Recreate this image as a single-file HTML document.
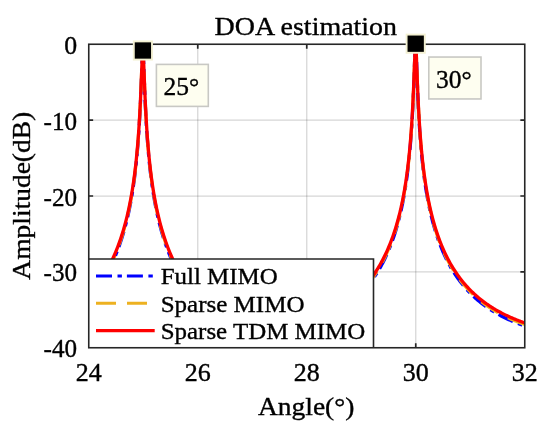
<!DOCTYPE html>
<html><head><meta charset="utf-8"><style>
html,body{margin:0;padding:0;background:#fff;width:550px;height:432px;overflow:hidden}
svg{display:block}
text{font-family:"Liberation Serif","DejaVu Serif",serif;fill:#000;stroke:#000;stroke-width:0.35px}
</style></head><body>
<svg width="550" height="432" viewBox="0 0 550 432">
<rect x="0" y="0" width="550" height="432" fill="#fff"/>
<g stroke="#262626" stroke-opacity="0.19" stroke-width="1.25" fill="none">
<path d="M197.75 44.25V347.75M306.75 44.25V347.75M415.75 44.25V347.75"/><path d="M88.75 120.1H524.75M88.75 196H524.75M88.75 271.9H524.75"/>
</g>
<g stroke="#262626" stroke-width="1.7" fill="none">
<path d="M197.75 347.75v-4.4M306.75 347.75v-4.4M415.75 347.75v-4.4M197.75 44.25v4.4M306.75 44.25v4.4M415.75 44.25v4.4M88.75 120.1h4.4M88.75 196h4.4M88.75 271.9h4.4M524.75 120.1h-4.4M524.75 196h-4.4M524.75 271.9h-4.4"/>
</g>
<defs><clipPath id="ax"><rect x="88.75" y="44.25" width="436" height="303.5"/></clipPath></defs>
<g clip-path="url(#ax)" fill="none" stroke-width="3.3">
<path d="M88.75 300.44 89.75 299.21 90.75 297.96 91.75 296.68 92.75 295.38 93.75 294.05 94.75 292.70 95.75 291.31 96.75 289.90 97.75 288.46 98.75 286.98 99.75 285.47 100.75 283.92 101.75 282.34 102.75 280.72 103.75 279.05 104.75 277.35 105.75 275.60 106.75 273.80 107.75 271.95 108.75 270.05 109.75 268.09 110.75 266.07 111.75 263.99 112.75 261.84 113.75 259.61 114.75 257.31 115.75 254.93 116.75 252.46 117.75 249.89 118.75 247.22 119.75 244.43 120.75 241.52 121.75 238.48 122.75 235.29 123.75 231.94 124.75 228.41 125.75 224.69 126.75 220.74 127.00 219.71 127.20 218.88 127.40 218.04 127.60 217.18 127.75 216.54 127.80 216.32 128.00 215.44 128.20 214.56 128.40 213.66 128.60 212.74 128.75 212.05 128.80 211.82 129.00 210.88 129.20 209.93 129.40 208.97 129.60 207.99 129.75 207.24 129.80 206.99 130.00 205.98 130.20 204.96 130.40 203.92 130.60 202.86 130.75 202.06 130.80 201.79 131.00 200.70 131.20 199.59 131.40 198.46 131.60 197.31 131.75 196.44 131.80 196.14 132.00 194.95 132.20 193.74 132.40 192.51 132.60 191.26 132.75 190.30 132.80 189.98 133.00 188.67 133.20 187.34 133.40 185.98 133.60 184.60 133.75 183.54 133.80 183.18 134.00 181.74 134.20 180.26 134.40 178.75 134.60 177.20 134.75 176.02 134.80 175.62 135.00 174.00 135.20 172.34 135.40 170.64 135.60 168.90 135.75 167.56 135.80 167.11 136.00 165.27 136.20 163.38 136.40 161.43 136.60 159.43 136.75 157.89 136.80 157.37 137.00 155.25 137.20 153.05 137.40 150.79 137.60 148.45 137.75 146.64 137.80 146.03 138.00 143.52 138.20 140.92 138.40 138.22 138.60 135.41 138.75 133.23 138.80 132.49 139.00 129.44 139.20 126.27 139.40 122.95 139.60 119.48 139.75 116.77 139.80 115.85 140.00 112.04 140.20 108.04 140.40 103.85 140.60 99.44 140.75 95.99 140.80 94.82 141.00 89.98 141.20 84.93 141.40 79.71 141.60 74.37 141.75 70.35 141.80 69.02 142.00 63.83 142.20 59.07 142.40 55.08 142.60 52.27 142.75 51.14 142.80 50.98 142.85 50.93 143.00 51.43 143.20 53.58 143.40 57.12 143.60 61.64 143.75 65.44 143.80 66.76 144.00 72.14 144.20 77.58 144.40 82.93 144.60 88.13 144.75 91.89 144.80 93.12 145.00 97.89 145.20 102.43 145.40 106.76 145.60 110.87 145.75 113.83 145.80 114.79 146.00 118.53 146.20 122.09 146.40 125.49 146.60 128.75 146.75 131.10 146.80 131.86 147.00 134.85 147.20 137.72 147.40 140.48 147.60 143.13 147.75 145.06 147.80 145.69 148.00 148.16 148.20 150.55 148.40 152.85 148.60 155.08 148.75 156.71 148.80 157.24 149.00 159.34 149.20 161.37 149.40 163.34 149.60 165.26 149.75 166.67 149.80 167.13 150.00 168.95 150.20 170.71 150.40 172.44 150.60 174.12 150.75 175.35 150.80 175.76 151.00 177.36 151.20 178.93 151.40 180.45 151.60 181.95 151.75 183.05 151.80 183.41 152.00 184.84 152.20 186.24 152.40 187.61 152.60 188.96 152.75 189.95 152.80 190.28 153.00 191.57 153.20 192.84 153.40 194.08 153.60 195.31 153.75 196.21 153.80 196.51 154.00 197.68 154.20 198.84 154.40 199.98 154.60 201.10 154.75 201.93 154.80 202.20 155.00 203.28 155.20 204.35 155.40 205.40 155.60 206.43 155.75 207.20 155.80 207.45 156.00 208.45 156.20 209.44 156.40 210.41 156.60 211.37 156.75 212.08 156.80 212.31 157.00 213.24 157.20 214.16 157.40 215.07 157.60 215.96 157.75 216.62 157.80 216.84 158.00 217.71 158.20 218.57 158.40 219.42 158.60 220.26 158.75 220.88 158.80 221.08 159.75 224.88 160.75 228.65 161.75 232.21 162.75 235.60 163.75 238.82 164.75 241.89 165.75 244.82 166.75 247.63 167.75 250.33 168.75 252.91 169.75 255.41 170.75 257.81 171.75 260.12 172.75 262.36 173.75 264.53 174.75 266.62 175.75 268.65 176.75 270.62 177.75 272.54 178.75 274.40 179.75 276.21 180.75 277.97 181.75 279.68 182.75 281.35 183.75 282.98 184.75 284.57 185.75 286.13 186.75 287.64 187.75 289.13 188.75 290.58 189.75 292.00 190.75 293.39 191.75 294.75 192.75 296.08 193.75 297.39 194.75 298.67 195.75 299.93 196.75 301.16 197.75 302.37 198.75 303.56 199.75 304.73 200.75 305.88 201.75 307.00 202.75 308.11 203.75 309.20 204.75 310.28 205.75 311.33 206.75 312.37 207.75 313.39 208.75 314.40 209.75 315.39 210.75 316.37 211.75 317.33 212.75 318.28 213.75 319.22 214.75 320.14 215.75 321.05 216.75 321.95 217.75 322.84 218.75 323.71 219.75 324.57 220.75 325.42 221.75 326.26 222.75 327.09 223.75 327.91 224.75 328.72 225.75 329.52 226.75 330.31 227.75 331.09 228.75 331.86 229.75 332.63 230.75 333.38 231.75 334.13 232.75 334.86 233.75 335.59 234.75 336.31 235.75 337.03 236.75 337.73 237.75 338.43 238.75 339.12 239.75 339.80 240.75 340.48 241.75 341.15 242.75 341.81 243.75 342.47 244.75 343.12 245.75 343.76 246.75 344.40 247.75 345.03 248.75 345.66 249.75 346.28 250.75 346.89 251.75 347.50 252.75 348.10 253.75 348.70 254.75 349.29 255.75 349.87 256.75 350.46 257.75 351.03 258.75 351.60 259.75 352.17 260.75 352.73 261.75 353.29 262.75 353.84 263.75 354.39 264.75 354.93 265.75 355.47 266.75 356.00 267.75 356.53 268.75 357.06 269.75 357.58 270.75 358.10 271.75 358.61 272.75 359.12 273.75 359.62 274.75 360.12 275.75 360.62 276.75 361.12 277.75 361.61 278.75 362.09 279.75 338.09 280.75 337.82 281.75 337.55 282.75 337.28 283.75 337.00 284.75 336.72 285.75 336.43 286.75 336.14 287.75 335.84 288.75 335.54 289.75 335.24 290.75 334.93 291.75 334.62 292.75 334.30 293.75 333.98 294.75 333.65 295.75 333.32 296.75 332.98 297.75 332.64 298.75 332.29 299.75 331.94 300.75 331.58 301.75 331.22 302.75 330.85 303.75 330.47 304.75 330.09 305.75 329.71 306.75 329.32 307.75 328.92 308.75 328.51 309.75 328.10 310.75 327.68 311.75 327.26 312.75 326.83 313.75 326.39 314.75 325.94 315.75 325.49 316.75 325.03 317.75 324.56 318.75 324.09 319.75 323.61 320.75 323.12 321.75 322.62 322.75 322.11 323.75 321.59 324.75 321.07 325.75 320.53 326.75 319.99 327.75 319.44 328.75 318.88 329.75 318.30 330.75 317.72 331.75 317.13 332.75 316.53 333.75 315.91 334.75 315.29 335.75 314.65 336.75 314.01 337.75 313.35 338.75 312.67 339.75 311.99 340.75 311.29 341.75 310.58 342.75 309.86 343.75 309.12 344.75 308.37 345.75 307.60 346.75 306.82 347.75 306.03 348.75 305.21 349.75 304.38 350.75 303.54 351.75 302.67 352.75 301.79 353.75 300.89 354.75 299.97 355.75 299.03 356.75 298.08 357.75 297.10 358.75 296.10 359.75 295.07 360.75 294.03 361.75 292.96 362.75 291.86 363.75 290.74 364.75 289.59 365.75 288.42 366.75 287.21 367.75 285.98 368.75 284.72 369.75 283.42 370.75 282.09 371.75 280.73 372.75 279.33 373.75 277.89 374.75 276.41 375.75 274.89 376.75 273.32 377.75 271.71 378.75 270.05 379.75 268.34 380.75 266.58 381.75 264.76 382.75 262.88 383.75 260.93 384.75 258.92 385.75 256.84 386.75 254.68 387.75 252.44 388.75 250.12 389.75 247.69 390.75 245.17 391.75 242.54 392.75 239.79 393.75 236.92 394.75 233.90 395.75 230.73 396.75 227.39 397.75 223.87 398.75 220.14 399.75 216.17 400.00 215.14 400.20 214.30 400.40 213.46 400.60 212.60 400.75 211.95 400.80 211.73 401.00 210.85 401.20 209.95 401.40 209.04 401.60 208.12 401.75 207.42 401.80 207.19 402.00 206.24 402.20 205.28 402.40 204.31 402.60 203.31 402.75 202.56 402.80 202.31 403.00 201.29 403.20 200.25 403.40 199.19 403.60 198.12 403.75 197.31 403.80 197.03 404.00 195.92 404.20 194.79 404.40 193.65 404.60 192.48 404.75 191.59 404.80 191.29 405.00 190.08 405.20 188.84 405.40 187.59 405.60 186.31 405.75 185.33 405.80 185.00 406.00 183.66 406.20 182.30 406.40 180.91 406.60 179.49 406.75 178.41 406.80 178.04 407.00 176.56 407.20 175.04 407.40 173.49 407.60 171.90 407.75 170.68 407.80 170.27 408.00 168.60 408.20 166.89 408.40 165.13 408.60 163.33 408.75 161.94 408.80 161.48 409.00 159.57 409.20 157.61 409.40 155.59 409.60 153.51 409.75 151.90 409.80 151.36 410.00 149.14 410.20 146.85 410.40 144.48 410.60 142.03 410.75 140.13 410.80 139.49 411.00 136.85 411.20 134.10 411.40 131.25 411.60 128.28 411.75 125.96 411.80 125.17 412.00 121.93 412.20 118.54 412.40 114.99 412.60 111.27 412.75 108.35 412.80 107.35 413.00 103.24 413.20 98.91 413.40 94.34 413.60 89.54 413.75 85.78 413.80 84.50 414.00 79.22 414.20 73.74 414.40 68.12 414.60 62.47 414.75 58.34 414.80 57.00 415.00 52.02 415.20 47.93 415.40 45.21 415.60 44.25 415.75 44.81 415.80 45.24 416.00 48.03 416.20 52.21 416.40 57.30 416.60 62.86 416.75 67.15 416.80 68.59 417.00 74.28 417.20 79.82 417.40 85.14 417.60 90.22 417.75 93.87 417.80 95.05 418.00 99.64 418.20 103.99 418.40 108.12 418.60 112.05 418.75 114.87 418.80 115.79 419.00 119.35 419.20 122.75 419.40 126.00 419.60 129.10 419.75 131.35 419.80 132.08 420.00 134.94 420.20 137.69 420.40 140.33 420.60 142.88 420.75 144.73 420.80 145.33 421.00 147.70 421.20 149.99 421.40 152.21 421.60 154.36 421.75 155.93 421.80 156.44 422.00 158.46 422.20 160.42 422.40 162.33 422.60 164.18 422.75 165.54 422.80 165.99 423.00 167.74 423.20 169.45 423.40 171.12 423.60 172.75 423.75 173.94 423.80 174.34 424.00 175.89 424.20 177.41 424.40 178.89 424.60 180.34 424.75 181.40 424.80 181.75 425.00 183.14 425.20 184.50 425.40 185.84 425.60 187.14 425.75 188.10 425.80 188.42 426.00 189.68 426.20 190.91 426.40 192.12 426.60 193.30 426.75 194.18 426.80 194.47 427.00 195.62 427.20 196.74 427.40 197.85 427.60 198.93 427.75 199.74 427.80 200.00 428.00 201.06 428.20 202.09 428.40 203.11 428.60 204.11 428.75 204.86 428.80 205.10 429.00 206.08 429.20 207.03 429.40 207.98 429.60 208.91 429.75 209.60 429.80 209.83 430.00 210.73 430.20 211.62 430.40 212.50 430.60 213.37 430.75 214.01 430.80 214.22 431.00 215.07 431.20 215.90 431.40 216.72 431.60 217.53 431.75 218.14 431.80 218.34 432.75 222.01 433.75 225.66 434.75 229.10 435.75 232.37 436.75 235.46 437.75 238.41 438.75 241.22 439.75 243.91 440.75 246.48 441.75 248.94 442.75 251.31 443.75 253.58 444.75 255.76 445.75 257.86 446.75 259.89 447.75 261.85 448.75 263.74 449.75 265.56 450.75 267.33 451.75 269.04 452.75 270.69 453.75 272.30 454.75 273.86 455.75 275.37 456.75 276.84 457.75 278.26 458.75 279.65 459.75 280.99 460.75 282.30 461.75 283.58 462.75 284.82 463.75 286.03 464.75 287.21 465.75 288.36 466.75 289.48 467.75 290.57 468.75 291.64 469.75 292.67 470.75 293.69 471.75 294.68 472.75 295.65 473.75 296.59 474.75 297.52 475.75 298.42 476.75 299.30 477.75 300.16 478.75 301.01 479.75 301.83 480.75 302.64 481.75 303.43 482.75 304.20 483.75 304.96 484.75 305.70 485.75 306.42 486.75 307.13 487.75 307.82 488.75 308.51 489.75 309.17 490.75 309.83 491.75 310.47 492.75 311.09 493.75 311.71 494.75 312.31 495.75 312.90 496.75 313.48 497.75 314.05 498.75 314.61 499.75 315.16 500.75 315.69 501.75 316.22 502.75 316.73 503.75 317.24 504.75 317.74 505.75 318.23 506.75 318.71 507.75 319.18 508.75 319.64 509.75 320.09 510.75 320.54 511.75 320.97 512.75 321.40 513.75 321.82 514.75 322.24 515.75 322.65 516.75 323.05 517.75 323.44 518.75 323.82 519.75 324.20 520.75 324.58 521.75 324.94 522.75 325.30 523.75 325.66 524.75 326.01" stroke="#0000ff" stroke-dasharray="16 5.5 4.4 5"/>
<path d="M88.75 298.85 89.75 297.62 90.75 296.37 91.75 295.09 92.75 293.79 93.75 292.46 94.75 291.11 95.75 289.72 96.75 288.31 97.75 286.87 98.75 285.39 99.75 283.88 100.75 282.33 101.75 280.75 102.75 279.13 103.75 277.47 104.75 275.76 105.75 274.01 106.75 272.21 107.75 270.36 108.75 268.46 109.75 266.50 110.75 264.48 111.75 262.40 112.75 260.25 113.75 258.03 114.75 255.73 115.75 253.34 116.75 250.87 117.75 248.30 118.75 245.63 119.75 242.84 120.75 239.94 121.75 236.90 122.75 233.71 123.75 230.36 124.75 226.83 125.75 223.10 126.75 219.16 127.00 218.13 127.20 217.30 127.40 216.46 127.60 215.60 127.75 214.96 127.80 214.74 128.00 213.86 128.20 212.98 128.40 212.08 128.60 211.17 128.75 210.47 128.80 210.24 129.00 209.30 129.20 208.35 129.40 207.39 129.60 206.41 129.75 205.67 129.80 205.42 130.00 204.41 130.20 203.39 130.40 202.35 130.60 201.29 130.75 200.49 130.80 200.22 131.00 199.12 131.20 198.02 131.40 196.89 131.60 195.74 131.75 194.87 131.80 194.57 132.00 193.39 132.20 192.18 132.40 190.94 132.60 189.69 132.75 188.73 132.80 188.41 133.00 187.11 133.20 185.78 133.40 184.42 133.60 183.03 133.75 181.98 133.80 181.62 134.00 180.18 134.20 178.70 134.40 177.19 134.60 175.65 134.75 174.47 134.80 174.07 135.00 172.45 135.20 170.79 135.40 169.09 135.60 167.35 135.75 166.02 135.80 165.56 136.00 163.73 136.20 161.84 136.40 159.90 136.60 157.90 136.75 156.36 136.80 155.84 137.00 153.72 137.20 151.54 137.40 149.28 137.60 146.94 137.75 145.14 137.80 144.53 138.00 142.02 138.20 139.43 138.40 136.74 138.60 133.94 138.75 131.77 138.80 131.03 139.00 128.00 139.20 124.84 139.40 121.54 139.60 118.10 139.75 115.40 139.80 114.49 140.00 110.70 140.20 106.74 140.40 102.58 140.60 98.22 140.75 94.82 140.80 93.65 141.00 88.88 141.20 83.92 141.40 78.79 141.60 73.57 141.75 69.65 141.80 68.35 142.00 63.32 142.20 58.73 142.40 54.90 142.60 52.20 142.75 51.13 142.80 50.98 142.85 50.93 143.00 51.41 143.20 53.46 143.40 56.85 143.60 61.21 143.75 64.88 143.80 66.16 144.00 71.39 144.20 76.71 144.40 81.96 144.60 87.06 144.75 90.77 144.80 91.98 145.00 96.69 145.20 101.18 145.40 105.46 145.60 109.55 145.75 112.48 145.80 113.44 146.00 117.15 146.20 120.69 146.40 124.07 146.60 127.31 146.75 129.65 146.80 130.41 147.00 133.39 147.20 136.25 147.40 139.00 147.60 141.64 147.75 143.56 147.80 144.19 148.00 146.66 148.20 149.03 148.40 151.33 148.60 153.56 148.75 155.18 148.80 155.72 149.00 157.81 149.20 159.84 149.40 161.81 149.60 163.72 149.75 165.13 149.80 165.59 150.00 167.40 150.20 169.17 150.40 170.89 150.60 172.57 150.75 173.80 150.80 174.21 151.00 175.81 151.20 177.37 151.40 178.90 151.60 180.39 151.75 181.49 151.80 181.85 152.00 183.28 152.20 184.68 152.40 186.05 152.60 187.39 152.75 188.38 152.80 188.71 153.00 190.00 153.20 191.27 153.40 192.51 153.60 193.74 153.75 194.64 153.80 194.93 154.00 196.11 154.20 197.27 154.40 198.41 154.60 199.53 154.75 200.35 154.80 200.63 155.00 201.71 155.20 202.77 155.40 203.82 155.60 204.86 155.75 205.62 155.80 205.87 156.00 206.87 156.20 207.86 156.40 208.83 156.60 209.79 156.75 210.50 156.80 210.73 157.00 211.66 157.20 212.58 157.40 213.49 157.60 214.38 157.75 215.04 157.80 215.26 158.00 216.13 158.20 216.99 158.40 217.84 158.60 218.68 158.75 219.30 158.80 219.50 159.75 223.29 160.75 227.06 161.75 230.63 162.75 234.01 163.75 237.23 164.75 240.30 165.75 243.24 166.75 246.04 167.75 248.74 168.75 251.33 169.75 253.82 170.75 256.22 171.75 258.54 172.75 260.77 173.75 262.94 174.75 265.03 175.75 267.07 176.75 269.04 177.75 270.95 178.75 272.81 179.75 274.62 180.75 276.38 181.75 278.09 182.75 279.76 183.75 281.39 184.75 282.98 185.75 284.54 186.75 286.05 187.75 287.54 188.75 288.99 189.75 290.41 190.75 291.80 191.75 293.16 192.75 294.49 193.75 295.80 194.75 297.08 195.75 298.34 196.75 299.57 197.75 300.78 198.75 301.97 199.75 303.14 200.75 304.29 201.75 305.41 202.75 306.52 203.75 307.61 204.75 308.69 205.75 309.74 206.75 310.78 207.75 311.80 208.75 312.81 209.75 313.80 210.75 314.78 211.75 315.74 212.75 316.69 213.75 317.63 214.75 318.55 215.75 319.46 216.75 320.36 217.75 321.25 218.75 322.12 219.75 322.98 220.75 323.83 221.75 324.67 222.75 325.50 223.75 326.32 224.75 327.13 225.75 327.93 226.75 328.72 227.75 329.50 228.75 330.27 229.75 331.04 230.75 331.79 231.75 332.54 232.75 333.27 233.75 334.00 234.75 334.72 235.75 335.44 236.75 336.14 237.75 336.84 238.75 337.53 239.75 338.21 240.75 338.89 241.75 339.56 242.75 340.22 243.75 340.88 244.75 341.53 245.75 342.17 246.75 342.81 247.75 343.44 248.75 344.07 249.75 344.69 250.75 345.30 251.75 345.91 252.75 346.51 253.75 347.11 254.75 347.70 255.75 348.28 256.75 348.87 257.75 349.44 258.75 350.01 259.75 350.58 260.75 351.14 261.75 351.70 262.75 352.25 263.75 352.80 264.75 353.34 265.75 353.88 266.75 354.41 267.75 354.94 268.75 355.47 269.75 355.99 270.75 356.50 271.75 357.02 272.75 357.53 273.75 358.03 274.75 358.53 275.75 359.03 276.75 359.53 277.75 360.02 278.75 360.50 279.75 336.50 280.75 336.23 281.75 335.96 282.75 335.69 283.75 335.41 284.75 335.12 285.75 334.84 286.75 334.55 287.75 334.25 288.75 333.95 289.75 333.65 290.75 333.34 291.75 333.03 292.75 332.71 293.75 332.39 294.75 332.06 295.75 331.73 296.75 331.39 297.75 331.05 298.75 330.70 299.75 330.35 300.75 329.99 301.75 329.63 302.75 329.26 303.75 328.88 304.75 328.50 305.75 328.12 306.75 327.73 307.75 327.33 308.75 326.92 309.75 326.51 310.75 326.09 311.75 325.67 312.75 325.24 313.75 324.80 314.75 324.35 315.75 323.90 316.75 323.44 317.75 322.97 318.75 322.50 319.75 322.02 320.75 321.53 321.75 321.03 322.75 320.52 323.75 320.00 324.75 319.48 325.75 318.94 326.75 318.40 327.75 317.85 328.75 317.29 329.75 316.71 330.75 316.13 331.75 315.54 332.75 314.94 333.75 314.32 334.75 313.70 335.75 313.06 336.75 312.42 337.75 311.76 338.75 311.08 339.75 310.40 340.75 309.70 341.75 308.99 342.75 308.27 343.75 307.53 344.75 306.78 345.75 306.01 346.75 305.23 347.75 304.44 348.75 303.62 349.75 302.79 350.75 301.95 351.75 301.08 352.75 300.20 353.75 299.30 354.75 298.38 355.75 297.44 356.75 296.49 357.75 295.51 358.75 294.51 359.75 293.48 360.75 292.44 361.75 291.37 362.75 290.27 363.75 289.15 364.75 288.00 365.75 286.83 366.75 285.63 367.75 284.39 368.75 283.13 369.75 281.83 370.75 280.50 371.75 279.14 372.75 277.74 373.75 276.30 374.75 274.82 375.75 273.30 376.75 271.73 377.75 270.12 378.75 268.46 379.75 266.75 380.75 264.99 381.75 263.17 382.75 261.29 383.75 259.35 384.75 257.34 385.75 255.25 386.75 253.10 387.75 250.86 388.75 248.53 389.75 246.11 390.75 243.59 391.75 240.96 392.75 238.21 393.75 235.33 394.75 232.31 395.75 229.15 396.75 225.81 397.75 222.28 398.75 218.55 399.75 214.59 400.00 213.56 400.20 212.72 400.40 211.88 400.60 211.02 400.75 210.37 400.80 210.15 401.00 209.27 401.20 208.37 401.40 207.46 401.60 206.54 401.75 205.85 401.80 205.61 402.00 204.66 402.20 203.70 402.40 202.73 402.60 201.74 402.75 200.98 402.80 200.73 403.00 199.71 403.20 198.67 403.40 197.62 403.60 196.55 403.75 195.73 403.80 195.46 404.00 194.35 404.20 193.22 404.40 192.07 404.60 190.91 404.75 190.02 404.80 189.72 405.00 188.51 405.20 187.27 405.40 186.02 405.60 184.74 405.75 183.76 405.80 183.43 406.00 182.10 406.20 180.74 406.40 179.35 406.60 177.93 406.75 176.84 406.80 176.48 407.00 175.00 407.20 173.48 407.40 171.93 407.60 170.34 407.75 169.13 407.80 168.72 408.00 167.05 408.20 165.34 408.40 163.58 408.60 161.78 408.75 160.40 408.80 159.93 409.00 158.03 409.20 156.07 409.40 154.05 409.60 151.98 409.75 150.38 409.80 149.83 410.00 147.62 410.20 145.33 410.40 142.97 410.60 140.52 410.75 138.63 410.80 137.99 411.00 135.35 411.20 132.62 411.40 129.77 411.60 126.81 411.75 124.51 411.80 123.72 412.00 120.50 412.20 117.12 412.40 113.59 412.60 109.89 412.75 106.99 412.80 106.00 413.00 101.92 413.20 97.62 413.40 93.11 413.60 88.36 413.75 84.65 413.80 83.39 414.00 78.19 414.20 72.81 414.40 67.31 414.60 61.80 414.75 57.79 414.80 56.50 415.00 51.69 415.20 47.77 415.40 45.16 415.60 44.25 415.75 44.78 415.80 45.19 416.00 47.86 416.20 51.88 416.40 56.78 416.60 62.18 416.75 66.36 416.80 67.77 417.00 73.34 417.20 78.78 417.40 84.02 417.60 89.03 417.75 92.64 417.80 93.81 418.00 98.35 418.20 102.67 418.40 106.77 418.60 110.67 418.75 113.47 418.80 114.38 419.00 117.93 419.20 121.31 419.40 124.54 419.60 127.64 419.75 129.87 419.80 130.60 420.00 133.45 420.20 136.19 420.40 138.83 420.60 141.37 420.75 143.21 420.80 143.82 421.00 146.18 421.20 148.47 421.40 150.68 421.60 152.83 421.75 154.39 421.80 154.91 422.00 156.92 422.20 158.88 422.40 160.78 422.60 162.63 422.75 163.99 422.80 164.44 423.00 166.19 423.20 167.90 423.40 169.57 423.60 171.19 423.75 172.39 423.80 172.78 424.00 174.33 424.20 175.84 424.40 177.32 424.60 178.77 424.75 179.84 424.80 180.19 425.00 181.58 425.20 182.94 425.40 184.27 425.60 185.57 425.75 186.53 425.80 186.85 426.00 188.11 426.20 189.34 426.40 190.55 426.60 191.73 426.75 192.61 426.80 192.90 427.00 194.04 427.20 195.17 427.40 196.27 427.60 197.36 427.75 198.16 427.80 198.43 428.00 199.48 428.20 200.52 428.40 201.53 428.60 202.54 428.75 203.28 428.80 203.52 429.00 204.50 429.20 205.45 429.40 206.40 429.60 207.33 429.75 208.02 429.80 208.25 430.00 209.15 430.20 210.04 430.40 210.92 430.60 211.79 430.75 212.43 430.80 212.64 431.00 213.49 431.20 214.32 431.40 215.14 431.60 215.95 431.75 216.55 431.80 216.75 432.75 220.43 433.75 224.07 434.75 227.52 435.75 230.78 436.75 233.88 437.75 236.83 438.75 239.64 439.75 242.32 440.75 244.89 441.75 247.36 442.75 249.72 443.75 251.99 444.75 254.17 445.75 256.27 446.75 258.30 447.75 260.26 448.75 262.15 449.75 263.97 450.75 265.74 451.75 267.45 452.75 269.11 453.75 270.71 454.75 272.27 455.75 273.78 456.75 275.25 457.75 276.67 458.75 278.06 459.75 279.40 460.75 280.72 461.75 281.99 462.75 283.23 463.75 284.44 464.75 285.62 465.75 286.77 466.75 287.89 467.75 288.98 468.75 290.05 469.75 291.08 470.75 292.10 471.75 293.09 472.75 294.06 473.75 295.00 474.75 295.93 475.75 296.83 476.75 297.71 477.75 298.57 478.75 299.42 479.75 300.24 480.75 301.05 481.75 301.84 482.75 302.61 483.75 303.37 484.75 304.11 485.75 304.83 486.75 305.54 487.75 306.23 488.75 306.92 489.75 307.58 490.75 308.24 491.75 308.88 492.75 309.50 493.75 310.12 494.75 310.72 495.75 311.31 496.75 311.89 497.75 312.46 498.75 313.02 499.75 313.57 500.75 314.10 501.75 314.63 502.75 315.14 503.75 315.65 504.75 316.15 505.75 316.64 506.75 317.12 507.75 317.59 508.75 318.05 509.75 318.50 510.75 318.95 511.75 319.38 512.75 319.81 513.75 320.23 514.75 320.65 515.75 321.06 516.75 321.46 517.75 321.85 518.75 322.23 519.75 322.61 520.75 322.99 521.75 323.35 522.75 323.71 523.75 324.07 524.75 324.41" stroke="#edb120" stroke-dasharray="20 11"/>
<path d="M88.75 297.33 89.75 296.10 90.75 294.85 91.75 293.58 92.75 292.27 93.75 290.95 94.75 289.59 95.75 288.21 96.75 286.79 97.75 285.35 98.75 283.87 99.75 282.36 100.75 280.82 101.75 279.23 102.75 277.61 103.75 275.95 104.75 274.24 105.75 272.49 106.75 270.70 107.75 268.85 108.75 266.94 109.75 264.99 110.75 262.97 111.75 260.88 112.75 258.73 113.75 256.51 114.75 254.21 115.75 251.83 116.75 249.36 117.75 246.79 118.75 244.12 119.75 241.33 120.75 238.42 121.75 235.38 122.75 232.20 123.75 228.85 124.75 225.32 125.75 221.59 126.75 217.65 127.00 216.62 127.20 215.79 127.40 214.95 127.60 214.10 127.75 213.45 127.80 213.23 128.00 212.36 128.20 211.47 128.40 210.57 128.60 209.66 128.75 208.97 128.80 208.74 129.00 207.80 129.20 206.85 129.40 205.89 129.60 204.91 129.75 204.16 129.80 203.91 130.00 202.91 130.20 201.88 130.40 200.84 130.60 199.79 130.75 198.98 130.80 198.72 131.00 197.62 131.20 196.52 131.40 195.39 131.60 194.24 131.75 193.37 131.80 193.08 132.00 191.89 132.20 190.68 132.40 189.45 132.60 188.19 132.75 187.24 132.80 186.92 133.00 185.61 133.20 184.28 133.40 182.93 133.60 181.55 133.75 180.49 133.80 180.13 134.00 178.69 134.20 177.22 134.40 175.71 134.60 174.17 134.75 172.99 134.80 172.59 135.00 170.97 135.20 169.32 135.40 167.62 135.60 165.88 135.75 164.55 135.80 164.09 136.00 162.26 136.20 160.38 136.40 158.44 136.60 156.44 136.75 154.91 136.80 154.39 137.00 152.27 137.20 150.09 137.40 147.84 137.60 145.51 137.75 143.71 137.80 143.10 138.00 140.61 138.20 138.02 138.40 135.34 138.60 132.55 138.75 130.39 138.80 129.65 139.00 126.64 139.20 123.49 139.40 120.21 139.60 116.78 139.75 114.11 139.80 113.19 140.00 109.44 140.20 105.51 140.40 101.39 140.60 97.07 140.75 93.71 140.80 92.56 141.00 87.85 141.20 82.96 141.40 77.93 141.60 72.82 141.75 69.00 141.80 67.74 142.00 62.86 142.20 58.41 142.40 54.73 142.60 52.15 142.75 51.13 142.80 50.98 142.85 50.93 143.00 51.38 143.20 53.35 143.40 56.61 143.60 60.81 143.75 64.37 143.80 65.60 144.00 70.70 144.20 75.89 144.40 81.04 144.60 86.06 144.75 89.71 144.80 90.90 145.00 95.55 145.20 100.00 145.40 104.24 145.60 108.29 145.75 111.20 145.80 112.15 146.00 115.84 146.20 119.36 146.40 122.72 146.60 125.94 146.75 128.27 146.80 129.03 147.00 132.00 147.20 134.85 147.40 137.59 147.60 140.22 147.75 142.14 147.80 142.77 148.00 145.22 148.20 147.60 148.40 149.89 148.60 152.11 148.75 153.73 148.80 154.26 149.00 156.35 149.20 158.38 149.40 160.34 149.60 162.26 149.75 163.66 149.80 164.12 150.00 165.93 150.20 167.69 150.40 169.41 150.60 171.09 150.75 172.32 150.80 172.73 151.00 174.32 151.20 175.88 151.40 177.41 151.60 178.90 151.75 180.00 151.80 180.36 152.00 181.79 152.20 183.19 152.40 184.56 152.60 185.90 152.75 186.89 152.80 187.22 153.00 188.51 153.20 189.78 153.40 191.02 153.60 192.24 153.75 193.14 153.80 193.44 154.00 194.61 154.20 195.77 154.40 196.91 154.60 198.03 154.75 198.85 154.80 199.13 155.00 200.21 155.20 201.27 155.40 202.32 155.60 203.35 155.75 204.12 155.80 204.37 156.00 205.37 156.20 206.35 156.40 207.33 156.60 208.28 156.75 208.99 156.80 209.23 157.00 210.16 157.20 211.08 157.40 211.98 157.60 212.87 157.75 213.54 157.80 213.76 158.00 214.62 158.20 215.48 158.40 216.33 158.60 217.17 158.75 217.79 158.80 217.99 159.75 221.78 160.75 225.55 161.75 229.12 162.75 232.50 163.75 235.72 164.75 238.79 165.75 241.72 166.75 244.53 167.75 247.23 168.75 249.81 169.75 252.31 170.75 254.71 171.75 257.02 172.75 259.26 173.75 261.42 174.75 263.52 175.75 265.55 176.75 267.52 177.75 269.43 178.75 271.29 179.75 273.10 180.75 274.86 181.75 276.58 182.75 278.25 183.75 279.88 184.75 281.47 185.75 283.02 186.75 284.54 187.75 286.02 188.75 287.47 189.75 288.89 190.75 290.28 191.75 291.64 192.75 292.98 193.75 294.28 194.75 295.56 195.75 296.82 196.75 298.05 197.75 299.26 198.75 300.45 199.75 301.62 200.75 302.77 201.75 303.90 202.75 305.01 203.75 306.10 204.75 307.17 205.75 308.23 206.75 309.26 207.75 310.29 208.75 311.30 209.75 312.29 210.75 313.26 211.75 314.23 212.75 315.18 213.75 316.11 214.75 317.04 215.75 317.95 216.75 318.84 217.75 319.73 218.75 320.60 219.75 321.47 220.75 322.32 221.75 323.16 222.75 323.99 223.75 324.81 224.75 325.62 225.75 326.42 226.75 327.21 227.75 327.99 228.75 328.76 229.75 329.52 230.75 330.27 231.75 331.02 232.75 331.76 233.75 332.49 234.75 333.21 235.75 333.92 236.75 334.63 237.75 335.32 238.75 336.01 239.75 336.70 240.75 337.37 241.75 338.04 242.75 338.71 243.75 339.36 244.75 340.01 245.75 340.66 246.75 341.29 247.75 341.92 248.75 342.55 249.75 343.17 250.75 343.78 251.75 344.39 252.75 344.99 253.75 345.59 254.75 346.18 255.75 346.77 256.75 347.35 257.75 347.92 258.75 348.50 259.75 349.06 260.75 349.62 261.75 350.18 262.75 350.73 263.75 351.28 264.75 351.82 265.75 352.36 266.75 352.89 267.75 353.42 268.75 353.95 269.75 354.47 270.75 354.99 271.75 355.50 272.75 356.01 273.75 356.52 274.75 357.02 275.75 357.51 276.75 358.01 277.75 358.50 278.75 358.99 279.75 334.98 280.75 334.72 281.75 334.44 282.75 334.17 283.75 333.89 284.75 333.61 285.75 333.32 286.75 333.03 287.75 332.73 288.75 332.43 289.75 332.13 290.75 331.82 291.75 331.51 292.75 331.19 293.75 330.87 294.75 330.54 295.75 330.21 296.75 329.87 297.75 329.53 298.75 329.18 299.75 328.83 300.75 328.47 301.75 328.11 302.75 327.74 303.75 327.37 304.75 326.99 305.75 326.60 306.75 326.21 307.75 325.81 308.75 325.40 309.75 324.99 310.75 324.58 311.75 324.15 312.75 323.72 313.75 323.28 314.75 322.84 315.75 322.38 316.75 321.93 317.75 321.46 318.75 320.98 319.75 320.50 320.75 320.01 321.75 319.51 322.75 319.00 323.75 318.49 324.75 317.96 325.75 317.43 326.75 316.88 327.75 316.33 328.75 315.77 329.75 315.20 330.75 314.62 331.75 314.02 332.75 313.42 333.75 312.81 334.75 312.18 335.75 311.55 336.75 310.90 337.75 310.24 338.75 309.57 339.75 308.88 340.75 308.19 341.75 307.48 342.75 306.75 343.75 306.02 344.75 305.26 345.75 304.50 346.75 303.72 347.75 302.92 348.75 302.11 349.75 301.28 350.75 300.43 351.75 299.57 352.75 298.69 353.75 297.79 354.75 296.87 355.75 295.93 356.75 294.97 357.75 293.99 358.75 292.99 359.75 291.97 360.75 290.92 361.75 289.85 362.75 288.75 363.75 287.63 364.75 286.49 365.75 285.31 366.75 284.11 367.75 282.88 368.75 281.61 369.75 280.32 370.75 278.99 371.75 277.62 372.75 276.22 373.75 274.78 374.75 273.30 375.75 271.78 376.75 270.22 377.75 268.61 378.75 266.95 379.75 265.24 380.75 263.47 381.75 261.65 382.75 259.77 383.75 257.83 384.75 255.82 385.75 253.74 386.75 251.58 387.75 249.34 388.75 247.01 389.75 244.59 390.75 242.07 391.75 239.44 392.75 236.69 393.75 233.82 394.75 230.80 395.75 227.63 396.75 224.30 397.75 220.77 398.75 217.04 399.75 213.08 400.00 212.05 400.20 211.22 400.40 210.37 400.60 209.51 400.75 208.86 400.80 208.64 401.00 207.76 401.20 206.86 401.40 205.96 401.60 205.04 401.75 204.34 401.80 204.10 402.00 203.16 402.20 202.20 402.40 201.22 402.60 200.23 402.75 199.48 402.80 199.23 403.00 198.21 403.20 197.17 403.40 196.12 403.60 195.04 403.75 194.23 403.80 193.96 404.00 192.85 404.20 191.72 404.40 190.57 404.60 189.41 404.75 188.52 404.80 188.22 405.00 187.01 405.20 185.78 405.40 184.52 405.60 183.24 405.75 182.26 405.80 181.94 406.00 180.60 406.20 179.24 406.40 177.86 406.60 176.44 406.75 175.36 406.80 174.99 407.00 173.51 407.20 171.99 407.40 170.45 407.60 168.86 407.75 167.64 407.80 167.23 408.00 165.57 408.20 163.86 408.40 162.11 408.60 160.31 408.75 158.93 408.80 158.46 409.00 156.56 409.20 154.60 409.40 152.59 409.60 150.52 409.75 148.92 409.80 148.38 410.00 146.17 410.20 143.89 410.40 141.53 410.60 139.09 410.75 137.20 410.80 136.56 411.00 133.93 411.20 131.21 411.40 128.37 411.60 125.42 411.75 123.13 411.80 122.34 412.00 119.13 412.20 115.78 412.40 112.26 412.60 108.58 412.75 105.71 412.80 104.72 413.00 100.67 413.20 96.41 413.40 91.94 413.60 87.25 413.75 83.59 413.80 82.34 414.00 77.22 414.20 71.94 414.40 66.55 414.60 61.19 414.75 57.29 414.80 56.04 415.00 51.39 415.20 47.61 415.40 45.12 415.60 44.25 415.75 44.76 415.80 45.15 416.00 47.70 416.20 51.57 416.40 56.31 416.60 61.55 416.75 65.63 416.80 67.00 417.00 72.45 417.20 77.80 417.40 82.96 417.60 87.91 417.75 91.47 417.80 92.63 418.00 97.13 418.20 101.41 418.40 105.48 418.60 109.36 418.75 112.14 418.80 113.05 419.00 116.57 419.20 119.94 419.40 123.16 419.60 126.24 419.75 128.47 419.80 129.20 420.00 132.04 420.20 134.77 420.40 137.40 420.60 139.93 420.75 141.77 420.80 142.37 421.00 144.74 421.20 147.02 421.40 149.23 421.60 151.37 421.75 152.93 421.80 153.44 422.00 155.46 422.20 157.41 422.40 159.31 422.60 161.16 422.75 162.51 422.80 162.96 423.00 164.71 423.20 166.42 423.40 168.08 423.60 169.71 423.75 170.90 423.80 171.29 424.00 172.84 424.20 174.35 424.40 175.83 424.60 177.28 424.75 178.35 424.80 178.70 425.00 180.08 425.20 181.44 425.40 182.77 425.60 184.08 425.75 185.04 425.80 185.35 426.00 186.61 426.20 187.84 426.40 189.05 426.60 190.23 426.75 191.11 426.80 191.40 427.00 192.54 427.20 193.66 427.40 194.77 427.60 195.86 427.75 196.66 427.80 196.93 428.00 197.98 428.20 199.01 428.40 200.03 428.60 201.03 428.75 201.77 428.80 202.02 429.00 202.99 429.20 203.95 429.40 204.89 429.60 205.82 429.75 206.51 429.80 206.74 430.00 207.64 430.20 208.53 430.40 209.41 430.60 210.28 430.75 210.92 430.80 211.13 431.00 211.98 431.20 212.81 431.40 213.63 431.60 214.44 431.75 215.04 431.80 215.24 432.75 218.92 433.75 222.56 434.75 226.01 435.75 229.27 436.75 232.37 437.75 235.31 438.75 238.13 439.75 240.81 440.75 243.38 441.75 245.84 442.75 248.20 443.75 250.47 444.75 252.66 445.75 254.76 446.75 256.79 447.75 258.74 448.75 260.63 449.75 262.46 450.75 264.22 451.75 265.93 452.75 267.59 453.75 269.20 454.75 270.75 455.75 272.26 456.75 273.73 457.75 275.16 458.75 276.54 459.75 277.89 460.75 279.20 461.75 280.47 462.75 281.72 463.75 282.93 464.75 284.10 465.75 285.25 466.75 286.37 467.75 287.46 468.75 288.53 469.75 289.57 470.75 290.58 471.75 291.57 472.75 292.54 473.75 293.49 474.75 294.41 475.75 295.31 476.75 296.19 477.75 297.06 478.75 297.90 479.75 298.72 480.75 299.53 481.75 300.32 482.75 301.09 483.75 301.85 484.75 302.59 485.75 303.31 486.75 304.02 487.75 304.72 488.75 305.40 489.75 306.07 490.75 306.72 491.75 307.36 492.75 307.99 493.75 308.60 494.75 309.20 495.75 309.80 496.75 310.38 497.75 310.94 498.75 311.50 499.75 312.05 500.75 312.58 501.75 313.11 502.75 313.63 503.75 314.13 504.75 314.63 505.75 315.12 506.75 315.60 507.75 316.07 508.75 316.53 509.75 316.98 510.75 317.43 511.75 317.87 512.75 318.30 513.75 318.72 514.75 319.13 515.75 319.54 516.75 319.94 517.75 320.33 518.75 320.72 519.75 321.10 520.75 321.47 521.75 321.84 522.75 322.20 523.75 322.55 524.75 322.90" stroke="#ff0000"/>
</g>
<!-- legend -->
<rect x="88.75" y="259" width="284.75" height="88.75" fill="#fff"/>
<path d="M88.75 259H373.5V347.75" fill="none" stroke="#262626" stroke-width="1.6"/>
<rect x="88.75" y="44.25" width="436" height="303.5" fill="none" stroke="#262626" stroke-width="1.6"/>
<path d="M96 276H154.7" stroke="#0000ff" stroke-width="3.2" stroke-dasharray="16 5.5 4.4 5"/>
<path d="M96 303.3H154.7" stroke="#edb120" stroke-width="3.1" stroke-dasharray="20 11"/>
<path d="M96 330.6H154.7" stroke="#ff0000" stroke-width="3.3"/>
<g font-size="23.5">
<text x="160.7" y="284.4" textLength="117" lengthAdjust="spacingAndGlyphs">Full MIMO</text>
<text x="160.7" y="311.5" textLength="143.8" lengthAdjust="spacingAndGlyphs">Sparse MIMO</text>
<text x="160.7" y="338.6" textLength="204.5" lengthAdjust="spacingAndGlyphs">Sparse TDM MIMO</text>
</g>
<!-- markers -->
<rect x="133.8" y="41.4" width="18.2" height="18.2" fill="#000" stroke="#f3f0d2" stroke-width="1.9"/>
<rect x="406.6" y="34.6" width="18.2" height="18.2" fill="#000" stroke="#f3f0d2" stroke-width="1.9"/>
<rect x="156.4" y="64.4" width="51.9" height="42" fill="#fefef0" stroke="#c8c8c4" stroke-width="1.6"/>
<rect x="428.8" y="57.05" width="52.2" height="41.9" fill="#fefef0" stroke="#c8c8c4" stroke-width="1.6"/>
<g font-size="25.5" style="stroke-width:0.1px">
<text x="163.5" y="94.6">25°</text>
<text x="435.9" y="87.6">30°</text>
</g>
<!-- ticks labels -->
<g font-size="24.2" text-anchor="middle">
<text x="88.75" y="381" textLength="26" lengthAdjust="spacingAndGlyphs">24</text>
<text x="197.75" y="381" textLength="26" lengthAdjust="spacingAndGlyphs">26</text>
<text x="306.75" y="381" textLength="26" lengthAdjust="spacingAndGlyphs">28</text>
<text x="415.75" y="381" textLength="26" lengthAdjust="spacingAndGlyphs">30</text>
<text x="524.75" y="381" textLength="26" lengthAdjust="spacingAndGlyphs">32</text>
</g>
<g font-size="24.2" text-anchor="end">
<text x="77.1" y="53.8" textLength="12.9" lengthAdjust="spacingAndGlyphs">0</text>
<text x="77.1" y="129.6" textLength="33.5" lengthAdjust="spacingAndGlyphs">-10</text>
<text x="77.1" y="205.5" textLength="33.5" lengthAdjust="spacingAndGlyphs">-20</text>
<text x="77.1" y="281.4" textLength="33.5" lengthAdjust="spacingAndGlyphs">-30</text>
<text x="77.1" y="357.2" textLength="33.5" lengthAdjust="spacingAndGlyphs">-40</text>
</g>
<text x="214.5" y="34.6" font-size="25.5" textLength="182.6" lengthAdjust="spacingAndGlyphs">DOA estimation</text>
<text x="258" y="414.9" font-size="25" textLength="96.4" lengthAdjust="spacingAndGlyphs">Angle(°)</text>
<text transform="translate(30,279.7) rotate(-90)" x="0" y="0" font-size="25" textLength="167.9" lengthAdjust="spacingAndGlyphs">Amplitude(dB)</text>
</svg>
</body></html>
